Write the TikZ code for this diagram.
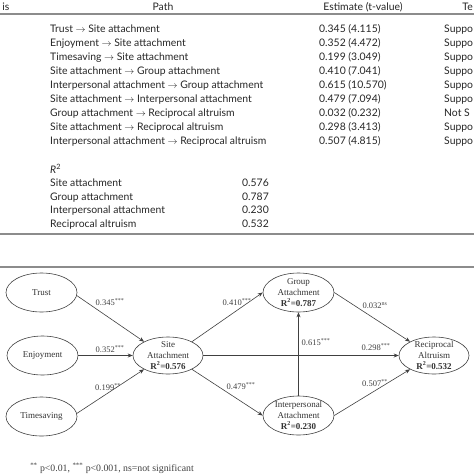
\documentclass[tikz,border=0pt]{standalone}
\usepackage{fontspec}
\setmainfont{Liberation Serif}
\newfontfamily\tabfont{Lato}
\usetikzlibrary{arrows.meta,shapes.geometric}

\tikzset{
  tab/.style={anchor=base west,inner sep=0pt,text=black!85,
    font=\tabfont\fontsize{10.4}{12}\selectfont},
  rule/.style={draw=black!45,line width=1.4pt},
  latent/.style={ellipse,draw=black!75,line width=0.6pt,text=black!80,
    minimum width=71pt,minimum height=39pt,inner sep=0pt,
    font=\fontsize{9}{10.5}\selectfont},
  lattext/.style={align=center,inner sep=0pt,text=black!80,
    font=\fontsize{9}{10.8}\selectfont},
  link/.style={draw=black!75,line width=0.6pt},
  est/.style={inner sep=0pt,text=black!75,font=\fontsize{8.5}{10}\selectfont},
}

\begin{document}
\begin{tikzpicture}[x=1pt,y=-1pt,>={Stealth[length=5pt,width=4pt]}]
  \useasboundingbox (0,0) rectangle (474,474);

  % table
  \node[tab,anchor=base east] (hHyp) at (9.5,10.5) {is};
  \node[tab,anchor=base] (hPath) at (163,10.5) {Path};
  \node[tab,anchor=base] (hEst) at (363,10.5) {Estimate (t-value)};
  \node[tab,anchor=base east] (hTest) at (473,10.5) {Te};
  \draw[rule] (0,14) -- (474,14);

  \node[tab] (p1) at (50,32) {Trust $\rightarrow$ Site attachment};
  \node[tab] (p2) at (50,46.1) {Enjoyment $\rightarrow$ Site attachment};
  \node[tab] (p3) at (50,60.2) {Timesaving $\rightarrow$ Site attachment};
  \node[tab] (p4) at (50,74.3) {Site attachment $\rightarrow$ Group attachment};
  \node[tab] (p5) at (50,88.4) {Interpersonal attachment $\rightarrow$ Group attachment};
  \node[tab] (p6) at (50,102.5) {Site attachment $\rightarrow$ Interpersonal attachment};
  \node[tab] (p7) at (50,116.6) {Group attachment $\rightarrow$ Reciprocal altruism};
  \node[tab] (p8) at (50,130.7) {Site attachment $\rightarrow$ Reciprocal altruism};
  \node[tab] (p9) at (50,144.8) {Interpersonal attachment $\rightarrow$ Reciprocal altruism};

  \node[tab] (e1) at (319,32) {0.345 (4.115)};
  \node[tab] (e2) at (319,46.1) {0.352 (4.472)};
  \node[tab] (e3) at (319,60.2) {0.199 (3.049)};
  \node[tab] (e4) at (319,74.3) {0.410 (7.041)};
  \node[tab] (e5) at (319,88.4) {0.615 (10.570)};
  \node[tab] (e6) at (319,102.5) {0.479 (7.094)};
  \node[tab] (e7) at (319,116.6) {0.032 (0.232)};
  \node[tab] (e8) at (319,130.7) {0.298 (3.413)};
  \node[tab] (e9) at (319,144.8) {0.507 (4.815)};

  \node[tab] (t1) at (444,32) {Suppo};
  \node[tab] (t2) at (444,46.1) {Suppo};
  \node[tab] (t3) at (444,60.2) {Suppo};
  \node[tab] (t4) at (444,74.3) {Suppo};
  \node[tab] (t5) at (444,88.4) {Suppo};
  \node[tab] (t6) at (444,102.5) {Suppo};
  \node[tab] (t7) at (444,116.6) {Not S};
  \node[tab] (t8) at (444,130.7) {Suppo};
  \node[tab] (t9) at (444,144.8) {Suppo};

  \node[tab] (r0) at (50,173.5) {\textit{R}\textsuperscript{2}};
  \node[tab] (r1) at (50,186.5) {Site attachment};
  \node[tab] (r2) at (50,200) {Group attachment};
  \node[tab] (r3) at (50,213.5) {Interpersonal attachment};
  \node[tab] (r4) at (50,227) {Reciprocal altruism};
  \node[tab] (v1) at (242,186.5) {0.576};
  \node[tab] (v2) at (242,200) {0.787};
  \node[tab] (v3) at (242,213.5) {0.230};
  \node[tab] (v4) at (242,227) {0.532};
  \draw[rule] (0,234) -- (474,234);
  \draw[rule] (0,267) -- (474,267);

  % model
  \node[latent] (trust) at (41.5,292.5) {Trust};
  \node[latent] (enjoy) at (42.5,355.5) {Enjoyment};
  \node[latent] (time) at (41.5,416.5) {Timesaving};
  \node[latent,minimum width=70pt,minimum height=37pt,
    label={[lattext]center:Site\\Attachment\\\textbf{R\textsuperscript{2}=0.576}}] (site) at (168,355.5) {};
  \node[latent,
    label={[lattext]center:Group\\Attachment\\\textbf{R\textsuperscript{2}=0.787}}] (group) at (298.5,292.5) {};
  \node[latent,
    label={[lattext]center:Interpersonal\\Attachment\\\textbf{R\textsuperscript{2}=0.230}}] (inter) at (298.5,415.5) {};
  \node[latent,minimum width=70pt,minimum height=37pt,
    label={[lattext]center:Reciprocal\\Altruism\\\textbf{R\textsuperscript{2}=0.532}}] (recip) at (434,355.5) {};

  \draw[->,link] (trust.-5) -- (site.150);
  \draw[->,link] (enjoy.east) -- (site.west);
  \draw[->,link] (time.5) -- (site.-150);
  \draw[->,link] (site.30) -- (group.west);
  \draw[->,link] (site.-30) -- (inter.west);
  \draw[->,link] (site.east) -- (recip.west);
  \draw[->,link] (inter.north) -- (group.south);
  \draw[->,link] (group.east) -- (recip.150);
  \draw[->,link] (inter.east) -- (recip.-150);

  \node[est] (l1) at (110,302) {0.345\textsuperscript{***}};
  \node[est] (l2) at (110,349) {0.352\textsuperscript{***}};
  \node[est] (l3) at (108,387) {0.199\textsuperscript{**}};
  \node[est] (l4) at (237,302) {0.410\textsuperscript{***}};
  \node[est] (l5) at (241,386) {0.479\textsuperscript{***}};
  \node[est] (l6) at (316,342) {0.615\textsuperscript{***}};
  \node[est] (l7) at (376,347) {0.298\textsuperscript{***}};
  \node[est] (l8) at (375,306) {0.032\textsuperscript{ns}};
  \node[est] (l9) at (375,383) {0.507\textsuperscript{**}};

  \node[est,font=\fontsize{9.8}{11}\selectfont] (note) at (112,468)
    {\textsuperscript{**} p<0.01, \textsuperscript{***} p<0.001, ns=not significant};
\end{tikzpicture}
\end{document}
